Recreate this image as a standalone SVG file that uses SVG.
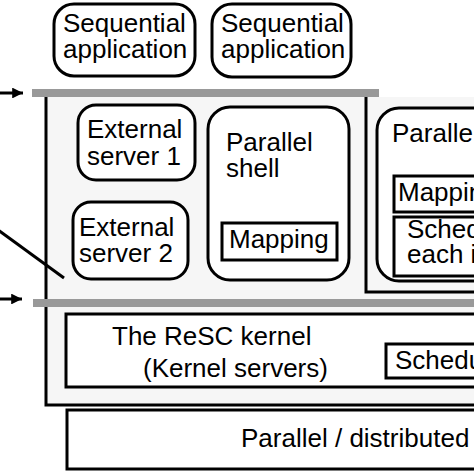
<svg xmlns="http://www.w3.org/2000/svg" width="474" height="474" viewBox="0 0 474 474">
<defs>
<marker id="ah" viewBox="0 0 10 10" refX="10" refY="5" markerWidth="5" markerHeight="3.6" markerUnits="strokeWidth" orient="auto">
<path d="M0,0 L10,5 L0,10 z" fill="#000"/>
</marker>
</defs>
<style>
.b{fill:#fff;stroke:#000;stroke-width:3}
.ln{fill:none;stroke:#000;stroke-width:3}
.bar{fill:#999}
text{font-family:"Liberation Sans",Arial,sans-serif;font-size:26px;fill:#000}
</style>
<rect width="474" height="474" fill="#fff"/>
<g id="frame">
<rect x="46" y="97" width="440" height="308" fill="#f6f6f6"/>
<path class="ln" d="M46 97 V405 H480"/>
<path class="ln" d="M366 97 V292 H480"/>
</g>
<g id="bars">
<rect class="bar" x="32" y="89" width="347" height="8"/>
<rect class="bar" x="33" y="299" width="450" height="8"/>
</g>
<g id="seq1"><rect class="b" x="54" y="4" width="141" height="72" rx="20"/><text x="63" y="32">Sequential</text><text x="63" y="58">application</text></g>
<g id="seq2"><rect class="b" x="212" y="4" width="139" height="73" rx="20"/><text x="221" y="32">Sequential</text><text x="221" y="58">application</text></g>
<g id="ext1"><rect class="b" x="78" y="105" width="117" height="75" rx="18"/><text x="87" y="138">External</text><text x="87" y="165">server 1</text></g>
<g id="ext2"><rect class="b" x="73" y="202" width="115" height="77" rx="18"/><text x="79" y="236">External</text><text x="79" y="262">server 2</text></g>
<g id="pshell"><rect class="b" x="208" y="107" width="141" height="173" rx="22"/><text x="226" y="151">Parallel</text><text x="226" y="177">shell</text>
<rect class="b" x="222" y="223" width="115" height="37"/><text x="229" y="248">Mapping</text></g>
<g id="papp"><rect class="b" x="377" y="108" width="200" height="173" rx="22"/><text x="392" y="142">Parallel</text>
<rect class="b" x="394" y="176" width="200" height="36"/><text x="398" y="201">Mapping</text>
<rect class="b" x="394" y="217" width="200" height="59"/><text x="407" y="238">Sched</text><text x="407" y="263">each i</text></g>
<g id="kernel"><rect class="b" x="66" y="314" width="420" height="73"/><text x="112" y="345">The ReSC kernel</text><text x="143" y="377">(Kernel servers)</text>
<rect class="b" x="386" y="344" width="200" height="34"/><text x="395" y="369">Schedu</text></g>
<g id="hw"><rect class="b" x="67" y="410" width="420" height="59"/><text x="241" y="447">Parallel / distributed</text></g>
<g id="connectors">
<line class="ln" x1="-2" y1="93" x2="23" y2="93" marker-end="url(#ah)"/>
<line class="ln" x1="-2" y1="299" x2="22" y2="299" marker-end="url(#ah)"/>
<line class="ln" x1="-2" y1="230" x2="64" y2="278"/>
</g>
</svg>
